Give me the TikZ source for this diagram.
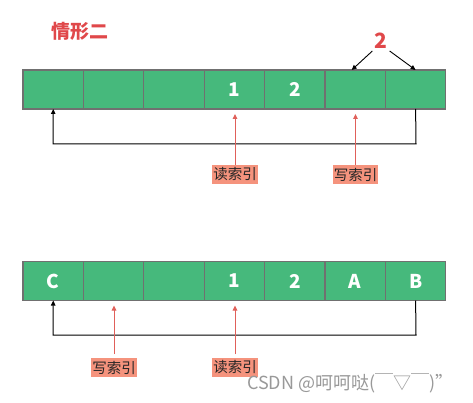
\documentclass[tikz,border=0pt]{standalone}
\usepackage{fontspec}
\setmainfont{Noto Sans CJK SC}
\usetikzlibrary{arrows.meta}
\definecolor{cellgreen}{HTML}{46B97C}
\definecolor{cellborder}{HTML}{707070}
\definecolor{titlered}{HTML}{E0484A}
\definecolor{arrowred}{HTML}{E0605A}
\definecolor{labelbg}{HTML}{F5937D}
\tikzset{
  cell/.style={draw=cellborder, line width=1.3pt, fill=cellgreen, minimum width=60.4pt, minimum height=39pt, inner sep=0pt, outer sep=0pt, text=white, font=\fontsize{19}{19}\selectfont\bfseries},
  idxlabel/.style={fill=labelbg, text=black!85, inner xsep=1pt, inner ysep=2.5pt, font=\fontsize{14.5}{14.5}\selectfont},
  loopline/.style={draw=black, line width=1pt, -{Triangle[length=5pt,width=4.5pt]}},
  redarrow/.style={draw=arrowred, line width=1pt, -{Triangle[length=5pt,width=4.5pt]}},
  blackarrow/.style={draw=black, line width=0.9pt, -{Triangle[length=5pt,width=4.5pt]}}
}
\begin{document}
\begin{tikzpicture}[x=1pt,y=-1pt]
\useasboundingbox (0,0) rectangle (473,403);
\fill[white] (0,0) rectangle (473,403);
% title
\node[text=titlered, font=\fontsize{19}{19}\selectfont\bfseries] (title) at (80,31) {情形二};
% top row
\foreach \i/\t in {1/,2/,3/,4/1,5/2,6/,7/} {
  \node[cell] (t\i) at ({23+30.2+(\i-1)*60.4},89.5) {\t};
}
% bottom row
\foreach \i/\t in {1/C,2/,3/,4/1,5/2,6/A,7/B} {
  \node[cell] (b\i) at ({23+30.2+(\i-1)*60.4},281) {\t};
}
% label 2
\node[text=titlered, font=\fontsize{21}{21}\selectfont\bfseries, inner sep=2pt] (two) at (381,41) {2};
\draw[blackarrow] (two.south west) -- ([xshift=-3.5pt]t6.north);
\draw[blackarrow] (two.south east) -- (t7.north);
% top loop
\draw[loopline] (t7.south) -- (416,144) -| (t1.south);
% top labels
\node[idxlabel] (tr) at (235,174.5) {读索引};
\node[idxlabel] (tw) at (355.5,174.5) {写索引};
\draw[redarrow, shorten >=5pt] (tr.north) -- (tr.north |- t4.south);
\draw[redarrow, shorten >=5pt] (tw.north) -- (tw.north |- t6.south);
% bottom loop
\draw[loopline] (b7.south) -- (416,335) -| (b1.south);
% bottom labels
\node[idxlabel] (bw) at (114,367.5) {写索引};
\node[idxlabel] (br) at (235,367.5) {读索引};
\draw[redarrow, shorten >=5pt, shorten <=4pt] (bw.north) -- (bw.north |- b2.south);
\draw[redarrow, shorten >=5pt, shorten <=4pt] (br.north) -- (br.north |- b4.south);
% watermark
\node[text=black!40, font=\fontsize{18}{18}\selectfont, anchor=west, inner sep=0pt] (wm) at (247,383) {CSDN @呵呵哒(￣▽￣)"};
\end{tikzpicture}
\end{document}
